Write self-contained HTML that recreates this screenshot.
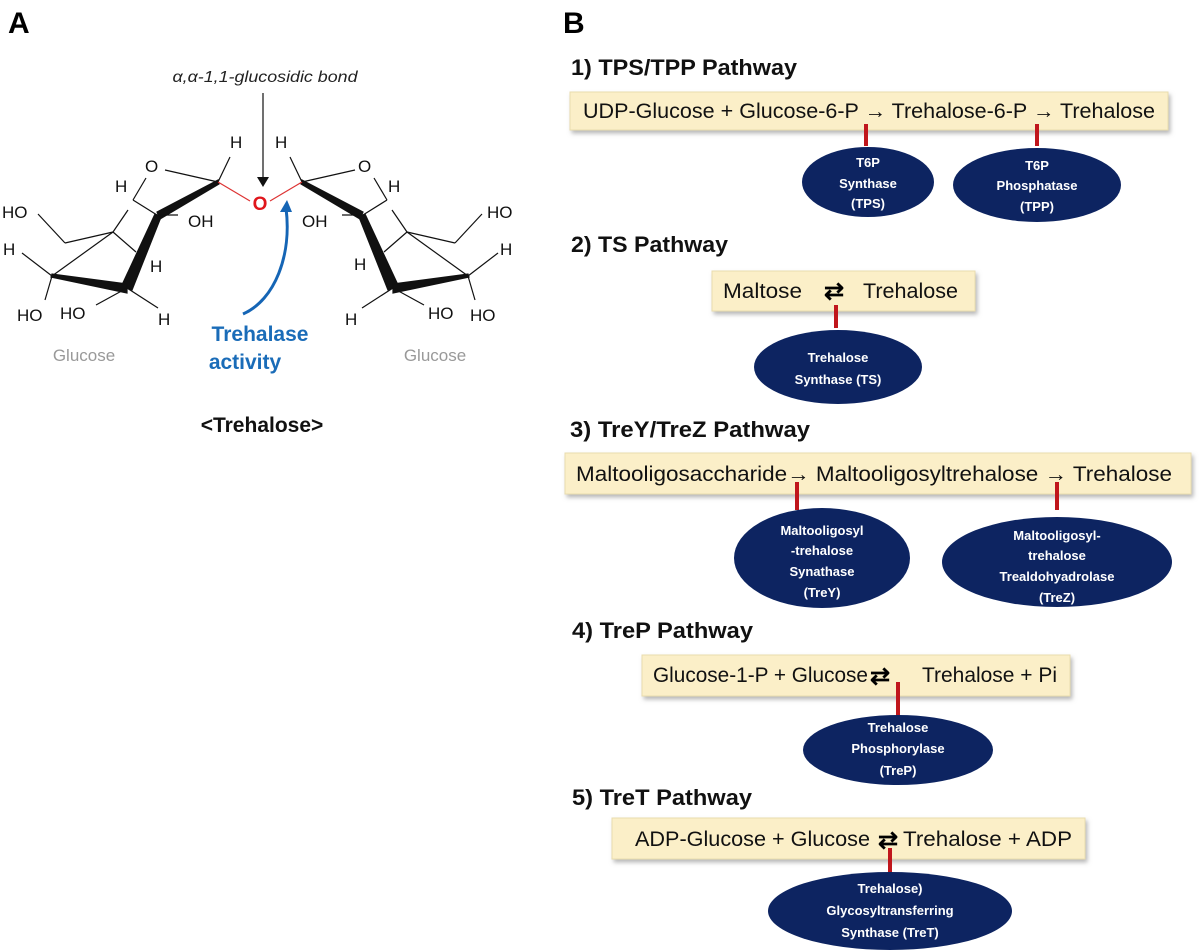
<!DOCTYPE html>
<html><head><meta charset="utf-8"><style>
html,body{margin:0;padding:0;background:#fff;}
svg{display:block;}
text{font-family:"Liberation Sans",sans-serif;}
.bx{fill:#fbefc8;stroke:#e9dcae;stroke-width:1;}
.el{fill:#0d2461;}
.et{fill:#fff;font-weight:bold;font-size:13px;text-anchor:middle;}
.tt{font-weight:bold;font-size:22px;fill:#111;}
.rx{font-size:21px;fill:#111;}
.st{stroke:#c0161c;stroke-width:4;}
.eq{font-size:24px;font-weight:bold;text-anchor:middle;}
</style></head><body>
<svg width="1200" height="952" viewBox="0 0 1200 952" xmlns="http://www.w3.org/2000/svg">
<defs>
<filter id="sh" x="-5%" y="-20%" width="110%" height="160%"><feDropShadow dx="2" dy="3" stdDeviation="2" flood-color="#888" flood-opacity="0.6"/></filter>
</defs>
<text x="8" y="33" font-size="30" font-weight="bold">A</text>
<text x="563" y="33" font-size="30" font-weight="bold">B</text>

<!-- molecule -->
<text x="265" y="82" font-size="15.5" font-style="italic" text-anchor="middle" fill="#222" textLength="185" lengthAdjust="spacingAndGlyphs">α,α-1,1-glucosidic bond</text>
<line x1="263" y1="93" x2="263" y2="178" stroke="#111" stroke-width="1.2"/>
<path d="M257,177 L269,177 L263,187 Z" fill="#111"/>
<g id="ring" stroke="#111" stroke-width="1.2" fill="none">
<line x1="165" y1="170" x2="218" y2="182"/>
<line x1="218" y1="182" x2="230" y2="157"/>
<path d="M218,180 L157,212 L160,219 L219,184 Z" fill="#111"/>
<path d="M155,214 L122,285 L132,290 L161,217 Z" fill="#111"/>
<path d="M127,284 L52,274 L51,277 L127,293 Z" fill="#111"/>
<line x1="157" y1="215" x2="178" y2="215"/>
<line x1="157" y1="215" x2="133" y2="200"/>
<line x1="133" y1="200" x2="146" y2="178"/>
<line x1="113" y1="232" x2="65" y2="243"/>
<line x1="65" y1="243" x2="38" y2="214"/>
<line x1="113" y1="232" x2="128" y2="210"/>
<line x1="113" y1="232" x2="136" y2="252"/>
<line x1="113" y1="232" x2="52" y2="276"/>
<line x1="52" y1="276" x2="22" y2="253"/>
<line x1="52" y1="276" x2="45" y2="300"/>
<line x1="127" y1="288" x2="96" y2="305"/>
<line x1="127" y1="288" x2="158" y2="308"/>
</g>
<use href="#ring" transform="translate(520,0) scale(-1,1)"/>
<line x1="218" y1="182" x2="250" y2="201" stroke="#d33" stroke-width="1.2"/>
<line x1="302" y1="182" x2="270" y2="201" stroke="#d33" stroke-width="1.2"/>
<text x="260" y="210" font-size="19" fill="#e0161c" text-anchor="middle" font-weight="bold">O</text>
<g font-size="17" fill="#111">
<text x="230" y="148">H</text><text x="145" y="172">O</text><text x="115" y="192">H</text>
<text x="2" y="218">HO</text><text x="188" y="227">OH</text><text x="3" y="255">H</text>
<text x="150" y="272">H</text><text x="17" y="321">HO</text><text x="60" y="319">HO</text><text x="158" y="325">H</text>
<text x="275" y="148">H</text><text x="358" y="172">O</text><text x="388" y="192">H</text>
<text x="487" y="218">HO</text><text x="302" y="227">OH</text><text x="500" y="255">H</text>
<text x="354" y="270">H</text><text x="345" y="325">H</text><text x="428" y="319">HO</text><text x="470" y="321">HO</text>
</g>
<text x="84" y="361" font-size="17" fill="#999" text-anchor="middle">Glucose</text>
<text x="435" y="361" font-size="17" fill="#999" text-anchor="middle">Glucose</text>
<path d="M243,314 C275,300 292,255 286,208" stroke="#1565b5" stroke-width="3" fill="none"/>
<path d="M280,212 L287,200 L292,212 Z" fill="#1565b5"/>
<text x="260" y="341" font-size="21" font-weight="bold" fill="#1a6cb8" text-anchor="middle">Trehalase</text>
<text x="245" y="369" font-size="21" font-weight="bold" fill="#1a6cb8" text-anchor="middle">activity</text>
<text x="262" y="432" font-size="21" font-weight="bold" fill="#111" text-anchor="middle">&lt;Trehalose&gt;</text>

<!-- 1 -->
<text class="tt" x="571" y="75" textLength="226" lengthAdjust="spacingAndGlyphs">1) TPS/TPP  Pathway</text>
<rect class="bx" x="570" y="92" width="598" height="38" filter="url(#sh)"/>
<text class="rx" x="583" y="118" textLength="572" lengthAdjust="spacingAndGlyphs">UDP-Glucose + Glucose-6-P → Trehalose-6-P → Trehalose</text>
<line class="st" x1="866" y1="124" x2="866" y2="146"/><line class="st" x1="1037" y1="124" x2="1037" y2="146"/>
<ellipse class="el" cx="868" cy="182" rx="66" ry="35"/>
<text class="et" x="868" y="167">T6P</text><text class="et" x="868" y="188">Synthase</text><text class="et" x="868" y="208">(TPS)</text>
<ellipse class="el" cx="1037" cy="185" rx="84" ry="37"/>
<text class="et" x="1037" y="170">T6P</text><text class="et" x="1037" y="190">Phosphatase</text><text class="et" x="1037" y="211">(TPP)</text>

<!-- 2 -->
<text class="tt" x="571" y="252" textLength="157" lengthAdjust="spacingAndGlyphs">2) TS Pathway</text>
<rect class="bx" x="712" y="271" width="263" height="40" filter="url(#sh)"/>
<text class="rx" x="723" y="298" textLength="79" lengthAdjust="spacingAndGlyphs">Maltose</text>
<text class="eq" x="834" y="299">⇄</text>
<text class="rx" x="863" y="298" textLength="95" lengthAdjust="spacingAndGlyphs">Trehalose</text>
<line class="st" x1="836" y1="305" x2="836" y2="328"/>
<ellipse class="el" cx="838" cy="367" rx="84" ry="37"/>
<text class="et" x="838" y="362">Trehalose</text><text class="et" x="838" y="384">Synthase (TS)</text>

<!-- 3 -->
<text class="tt" x="570" y="437" textLength="240" lengthAdjust="spacingAndGlyphs">3) TreY/TreZ Pathway</text>
<rect class="bx" x="565" y="453" width="626" height="41" filter="url(#sh)"/>
<text class="rx" x="576" y="481" textLength="596" lengthAdjust="spacingAndGlyphs">Maltooligosaccharide→ Maltooligosyltrehalose → Trehalose</text>
<line class="st" x1="797" y1="482" x2="797" y2="510"/><line class="st" x1="1057" y1="482" x2="1057" y2="510"/>
<ellipse class="el" cx="822" cy="558" rx="88" ry="50"/>
<text class="et" x="822" y="535">Maltooligosyl</text><text class="et" x="822" y="555">-trehalose</text><text class="et" x="822" y="576">Synathase</text><text class="et" x="822" y="597">(TreY)</text>
<ellipse class="el" cx="1057" cy="562" rx="115" ry="45"/>
<text class="et" x="1057" y="540">Maltooligosyl-</text><text class="et" x="1057" y="560">trehalose</text><text class="et" x="1057" y="581">Trealdohyadrolase</text><text class="et" x="1057" y="602">(TreZ)</text>

<!-- 4 -->
<text class="tt" x="572" y="638" textLength="181" lengthAdjust="spacingAndGlyphs">4) TreP Pathway</text>
<rect class="bx" x="642" y="655" width="428" height="41" filter="url(#sh)"/>
<text class="rx" x="653" y="682" textLength="215" lengthAdjust="spacingAndGlyphs">Glucose-1-P + Glucose</text>
<text class="eq" x="880" y="684">⇄</text>
<text class="rx" x="922" y="682" textLength="135" lengthAdjust="spacingAndGlyphs">Trehalose + Pi</text>
<line class="st" x1="898" y1="682" x2="898" y2="716"/>
<ellipse class="el" cx="898" cy="750" rx="95" ry="35"/>
<text class="et" x="898" y="732">Trehalose</text><text class="et" x="898" y="753">Phosphorylase</text><text class="et" x="898" y="775">(TreP)</text>

<!-- 5 -->
<text class="tt" x="572" y="805" textLength="180" lengthAdjust="spacingAndGlyphs">5) TreT Pathway</text>
<rect class="bx" x="612" y="818" width="473" height="41" filter="url(#sh)"/>
<text class="rx" x="635" y="846" textLength="235" lengthAdjust="spacingAndGlyphs">ADP-Glucose + Glucose</text>
<text class="eq" x="888" y="848">⇄</text>
<text class="rx" x="903" y="846" textLength="169" lengthAdjust="spacingAndGlyphs">Trehalose + ADP</text>
<line class="st" x1="890" y1="848" x2="890" y2="874"/>
<ellipse class="el" cx="890" cy="911" rx="122" ry="39"/>
<text class="et" x="890" y="893">Trehalose)</text><text class="et" x="890" y="915">Glycosyltransferring</text><text class="et" x="890" y="937">Synthase (TreT)</text>
</svg>
</body></html>
